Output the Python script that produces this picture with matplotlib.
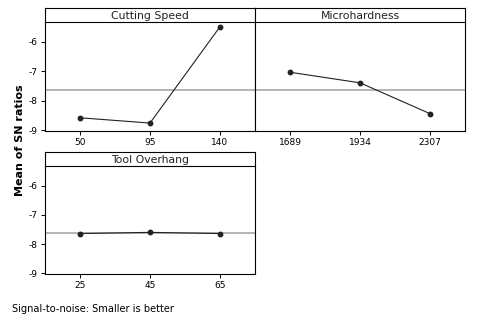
import matplotlib.pyplot as plt

# === Данные (Main Effects Plot for SN ratios) ===
factors = ["Cutting Speed", "Microhardness", "Tool Overhang"]
levels_speed = ["50", "95", "140"]
levels_hard = ["1689", "1934", "2307"]
levels_overhang = ["25", "45", "65"]
sn_speed = [-8.58, -8.76, -5.48]
sn_hard = [-7.03, -7.39, -8.44]
sn_overhang = [-7.64, -7.60, -7.64]
grand_mean = -7.63
y_ticks = [-9, -8, -7, -6]

W, H = 480, 321
fig = plt.figure(figsize=(W / 100, H / 100), dpi=100)
plt.rcParams["font.family"] = "DejaVu Sans"


def px_axes(x0, y0, x1, y1):
    # координаты в пикселях от верхнего левого угла
    return fig.add_axes([x0 / W, 1 - y1 / H, (x1 - x0) / W, (y1 - y0) / H])


def panel(x0, x1, top, strip_bot, bot, title, labels, values, show_y):
    ax = px_axes(x0, strip_bot, x1, bot)
    xs = list(range(1, len(values) + 1))
    ax.axhline(grand_mean, color="#a8a8a8", lw=1.2, zorder=1)
    ax.plot(xs, values, color="#222222", lw=0.8, marker="o", ms=3.2, zorder=2)
    ax.set_xlim(0.5, 3.5)
    ax.set_ylim(-9.03, -5.32)
    ax.set_xticks(xs)
    ax.set_xticklabels(labels, fontsize=6.5)
    ax.set_yticks(y_ticks)
    if show_y:
        ax.set_yticklabels([str(t) for t in y_ticks], fontsize=6.5)
    else:
        ax.tick_params(axis="y", left=False, labelleft=False)
    ax.tick_params(direction="out", length=3, width=0.7, pad=2)
    ax.spines["top"].set_visible(False)
    for sp in ax.spines.values():
        sp.set_linewidth(0.8)

    # полоса с названием фактора поверх графика
    s = px_axes(x0, top, x1, strip_bot)
    s.set_zorder(5)
    s.set_xticks([])
    s.set_yticks([])
    s.text(0.5, 0.45, title, ha="center", va="center", fontsize=7.8,
           color="#222222", transform=s.transAxes)
    for sp in s.spines.values():
        sp.set_linewidth(0.8)
    return ax


panel(45, 255, 8, 22, 131, factors[0], levels_speed, sn_speed, True)
panel(255, 465, 8, 22, 131, factors[1], levels_hard, sn_hard, False)
panel(45, 255, 152, 166, 274, factors[2], levels_overhang, sn_overhang, True)

fig.text(20 / W, 1 - 140 / H, "Mean of SN ratios", rotation=90, ha="center",
         va="center", fontsize=8, fontweight="bold")
fig.text(12 / W, 1 - 309 / H, "Signal-to-noise: Smaller is better",
         ha="left", va="center", fontsize=7.1)

fig.savefig("out.png", dpi=100)
